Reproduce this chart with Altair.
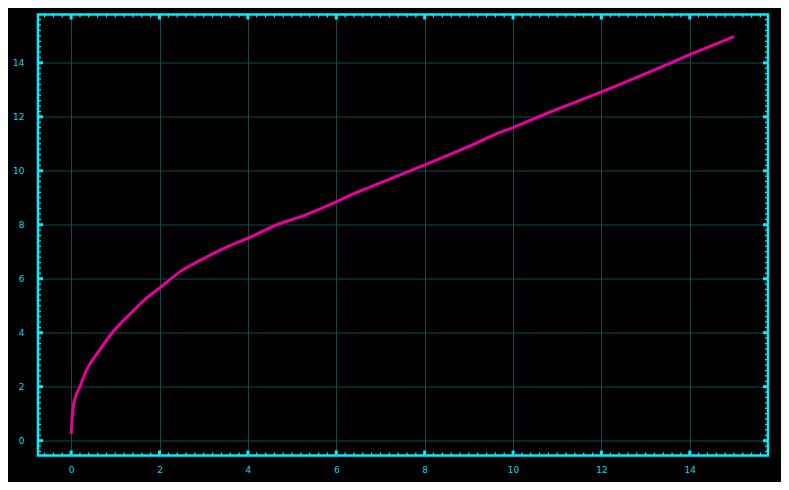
import altair as alt
import pandas as pd

# curve values
xs = [0, 0.04, 0.1, 0.2, 0.35, 0.6, 0.93, 1.35, 1.7, 2.0, 2.5, 2.93, 3.4, 3.85, 4.0, 4.66, 5.2, 6.0, 6.4, 7.0, 7.67, 8.0, 9.0, 9.6, 10.0, 10.8, 12.0, 13.0, 14.0, 15.0]
ys = [0.25, 1.15, 1.62, 2.0, 2.62, 3.25, 4.0, 4.72, 5.27, 5.65, 6.3, 6.69, 7.08, 7.4, 7.5, 8.0, 8.3, 8.85, 9.15, 9.55, 10.0, 10.22, 10.9, 11.35, 11.6, 12.15, 12.92, 13.6, 14.3, 14.97]

major_x = [0, 2, 4, 6, 8, 10, 12, 14]
major_y = [0, 2, 4, 6, 8, 10, 12, 14]
minor_x = [round(-0.6 + 0.2 * i, 1) for i in range(82)]
minor_y = [round(-0.4 + 0.2 * i, 1) for i in range(81)]

X_DOM = [-0.75, 15.77]
Y_DOM = [-0.55, 15.79]
W, H = 730, 441
CYAN = "#00f0ff"
LABEL = "#00d8ee"
GRID = "#0d4d4f"
LINE = "#e8009e"

xscale = alt.Scale(domain=X_DOM, nice=False, zero=False)
yscale = alt.Scale(domain=Y_DOM, nice=False, zero=False)
xaxis = alt.Axis(values=major_x, grid=True, gridColor=GRID, gridWidth=1, gridOpacity=1,
                 domain=False, ticks=False, labelColor=LABEL, labelFontSize=9,
                 labelFont="DejaVu Sans", labelPadding=10, title=None)
yaxis = alt.Axis(values=major_y, grid=True, gridColor=GRID, gridWidth=1, gridOpacity=1,
                 domain=False, ticks=False, labelColor=LABEL, labelFontSize=9,
                 labelFont="DejaVu Sans", labelPadding=14, title=None)

df = pd.DataFrame({"x": xs, "y": ys})
dmx = pd.DataFrame({"x": major_x})
dmy = pd.DataFrame({"y": major_y})
dnx = pd.DataFrame({"x": minor_x})
dny = pd.DataFrame({"y": minor_y})

line = alt.Chart(df).mark_line(color=LINE, strokeWidth=3, interpolate="monotone").encode(
    x=alt.X("x:Q", scale=xscale, axis=xaxis),
    y=alt.Y("y:Q", scale=yscale, axis=yaxis),
)

def xticks(data, y1, y2, w):
    return alt.Chart(data).mark_rule(color=CYAN, strokeWidth=w).encode(
        x=alt.X("x:Q", scale=xscale, axis=xaxis), y=alt.value(y1), y2=alt.value(y2))

def yticks(data, x1, x2, w):
    return alt.Chart(data).mark_rule(color=CYAN, strokeWidth=w).encode(
        y=alt.Y("y:Q", scale=yscale, axis=yaxis), x=alt.value(x1), x2=alt.value(x2))

layers = [
    line,
    xticks(dnx, H, H - 3, 1.3), xticks(dnx, 0, 3, 1.3),
    yticks(dny, 0, 3, 1.3), yticks(dny, W, W - 3, 1.3),
    xticks(dmx, H, H - 5, 3), xticks(dmx, 0, 5, 3),
    yticks(dmy, 0, 5, 3), yticks(dmy, W, W - 5, 3),
]

chart = alt.layer(*layers).properties(
    width=W, height=H,
    autosize=alt.AutoSizeParams(type="none"),
    padding={"left": 30, "top": 6.5, "right": 13, "bottom": 26.5},
    background="black",
).configure_view(stroke=CYAN, strokeWidth=2.5, fill="black")

chart.save("out.html", embed_options={"renderer": "svg", "actions": False})
